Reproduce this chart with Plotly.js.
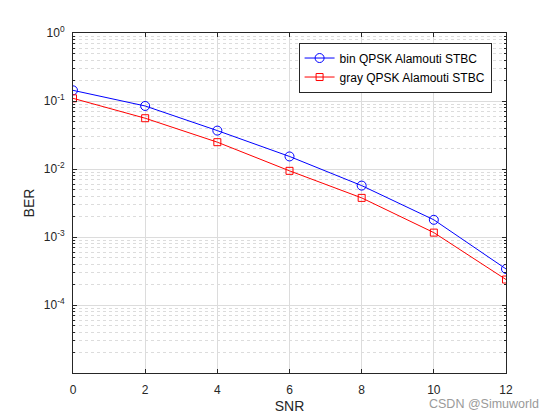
<!DOCTYPE html>
<html>
<head>
<meta charset="utf-8">
<script src="https://cdn.plot.ly/plotly-3.0.1.min.js"></script>
<style>html,body{margin:0;padding:0;background:#fff;}#chart{width:560px;height:420px;}</style>
</head>
<body>
<div id="chart"></div>
<script>
var snr = [0, 2, 4, 6, 8, 10, 12];
var berBin = [0.1435, 0.0845, 0.0367, 0.0153, 0.0057, 0.00179, 0.000339];
var berGray = [0.1095, 0.0558, 0.0248, 0.0094, 0.00376, 0.00116, 0.000237];
var seriesNames = ['bin QPSK Alamouti STBC', 'gray QPSK Alamouti STBC'];
var xTicks = [0, 2, 4, 6, 8, 10, 12];
var yTickVals = [1, 0.1, 0.01, 0.001, 0.0001];
var yTickText = ['10<sup>0</sup>', '10<sup>-1</sup>', '10<sup>-2</sup>', '10<sup>-3</sup>', '10<sup>-4</sup>'];

var traces = [
  {x: snr, y: berBin, name: seriesNames[0], type: 'scatter', mode: 'lines+markers',
   line: {color: '#0000ff', width: 1},
   marker: {symbol: 'circle-open', size: 9, color: '#0000ff', line: {width: 1, color: '#0000ff'}}},
  {x: snr, y: berGray, name: seriesNames[1], type: 'scatter', mode: 'lines+markers',
   line: {color: '#ff0000', width: 1},
   marker: {symbol: 'square-open', size: 7, color: '#ff0000', line: {width: 1, color: '#ff0000'}}}
];

var ff = 'Liberation Sans, Arial, sans-serif';
var axisFont = {family: ff, size: 12, color: '#262626'};
var layout = {
  width: 560, height: 420,
  margin: {l: 73, r: 54, t: 33, b: 47, pad: 0},
  paper_bgcolor: '#ffffff', plot_bgcolor: '#ffffff',
  showlegend: true,
  legend: {x: 0.521, y: 0.972, xanchor: 'left', yanchor: 'top',
    bgcolor: '#ffffff', bordercolor: '#262626', borderwidth: 1,
    font: {family: ff, size: 12, color: '#000'},
    tracegroupgap: 0, itemwidth: 30},
  xaxis: {
    range: [0, 12], tickvals: xTicks, ticktext: xTicks.map(String),
    showgrid: true, gridcolor: '#dcdcdc', gridwidth: 1,
    zeroline: false, showline: true, linecolor: '#262626', linewidth: 1, mirror: 'ticks',
    ticks: 'inside', ticklen: 4, tickcolor: '#262626',
    tickfont: axisFont, ticklabelstandoff: 6,
    title: {text: 'SNR', font: {family: ff, size: 14, color: '#262626'}, standoff: 4}
  },
  yaxis: {
    type: 'log', range: [-5, 0],
    tickvals: yTickVals, ticktext: yTickText,
    showgrid: true, gridcolor: '#dcdcdc', gridwidth: 1,
    zeroline: false, showline: true, linecolor: '#262626', linewidth: 1, mirror: 'ticks',
    ticks: 'inside', ticklen: 4, tickcolor: '#262626',
    tickfont: axisFont, ticklabelstandoff: 5,
    minor: {dtick: 'D1', showgrid: true, gridcolor: '#dcdcdc', griddash: 'dot', gridwidth: 1, ticks: 'inside', ticklen: 2, tickcolor: '#262626'},
    title: {text: 'BER', font: {family: ff, size: 14, color: '#262626'}, standoff: 5}
  },
  annotations: [{
    text: 'CSDN @Simuworld', xref: 'paper', yref: 'paper', x: 1.08, y: -0.09,
    xanchor: 'right', yanchor: 'middle', showarrow: false,
    font: {family: ff, size: 12.5, color: '#9a9a9a'}
  }]
};
Plotly.newPlot('chart', traces, layout, {staticPlot: true, displayModeBar: false});
</script>
</body>
</html>
